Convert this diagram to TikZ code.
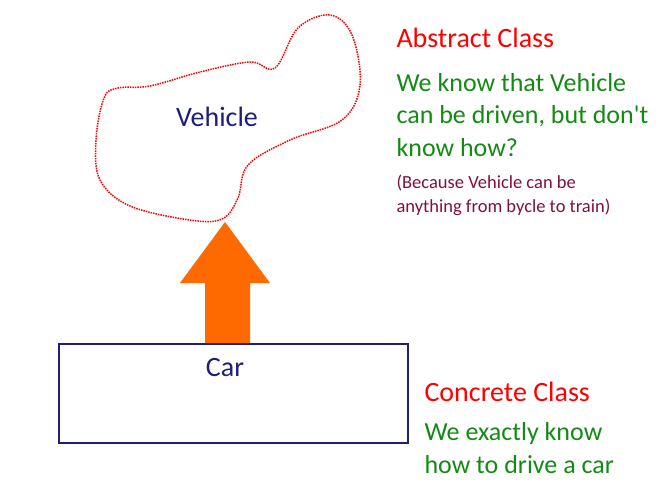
\documentclass[tikz,border=0pt]{standalone}
\usepackage{fontspec}
\setmainfont{Carlito}
\usepackage{textcomp}
\usetikzlibrary{positioning}
\definecolor{navyblue}{HTML}{1F1F7A}
\definecolor{darkgreen}{HTML}{138A13}
\definecolor{maroon}{HTML}{7F1040}
\definecolor{arrorange}{HTML}{FF6A00}
\begin{document}
\begin{tikzpicture}[x=1pt, y=-1pt,
    title/.style={anchor=west, text=red, font=\fontsize{28}{30}\selectfont},
    note/.style={anchor=west, text=darkgreen, align=left, font=\fontsize{26}{32.5}\selectfont},
    small/.style={anchor=west, text=maroon, align=left, font=\fontsize{18.5}{24}\selectfont}]
    \useasboundingbox (0,0) rectangle (665,496);
    % abstract class cloud
    \draw[red, densely dotted, line width=1.5pt] plot[smooth cycle, tension=0.6] coordinates {
        (118,88) (150,86) (200,72) (250,62) (275,68) (298,28) (330,15) (352,35)
        (360,85) (342,120) (290,140) (248,165) (238,198) (222,219) (190,220)
        (130,206) (100,180) (96,140) (104,98)};
    \node[text=navyblue, font=\fontsize{28}{30}\selectfont] (vehicle) at (217,117) {Vehicle};
    % concrete class box
    \node[draw=navyblue, line width=1.2pt, minimum width=349pt, minimum height=99pt] (car) at (233.5,393.5) {};
    \node[text=navyblue, font=\fontsize{28}{30}\selectfont] (carlabel) at (225,368) {Car};
    % inheritance arrow
    \coordinate (tip) at (225,222);
    \fill[arrorange] (205,343) -- (205,283) -- (180,283) -- (tip) -- (270,283) -- (250,283) -- (250,343) -- cycle;
    % labels
    \node[title] (abstract) at (393,38) {Abstract Class};
    \node[note] (know) at (393,115) {We know that Vehicle\\can be driven, but don\textquotesingle t\\know how?};
    \node[small] (because) at (393,195) {(Because Vehicle can be\\anything from bycle to train)};
    \node[title] (concrete) at (421,392) {Concrete Class};
    \node[note] (exactly) at (421,448) {We exactly know\\how to drive a car};
\end{tikzpicture}
\end{document}
